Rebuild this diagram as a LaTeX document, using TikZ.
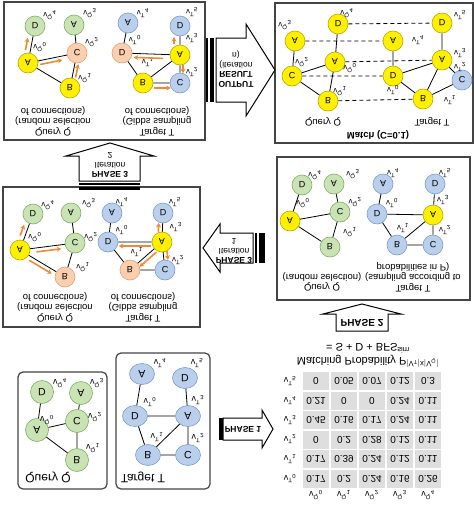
\documentclass[tikz,border=0pt]{standalone}
\usepackage{fontspec}
\usepackage{amsmath}
\setmainfont{Liberation Sans}
\usetikzlibrary{arrows.meta,calc,shapes.geometric}
\definecolor{qfill}{HTML}{C9E3B5}
\definecolor{qline}{HTML}{7FAE63}
\definecolor{tfill}{HTML}{B9CFEC}
\definecolor{tline}{HTML}{7B9CCB}
\definecolor{yfill}{HTML}{FFF000}
\definecolor{yline}{HTML}{B5A800}
\definecolor{ofill}{HTML}{F9CFAF}
\definecolor{oline}{HTML}{E2A070}
\definecolor{movec}{HTML}{EE8A35}
\definecolor{framec}{HTML}{444444}
\definecolor{cellc}{HTML}{DEDEDE}
\newcommand{\vQ}[1]{$\text{v}^{\text{Q}}{}_{\text{#1}}$}
\newcommand{\vT}[1]{$\text{v}^{\text{T}}{}_{\text{#1}}$}
\tikzset{
  vx/.style={circle,draw,line width=0.6pt,inner sep=0pt,minimum size=20pt,font=\fontsize{9}{9}\selectfont},
  big/.style={minimum size=23pt,font=\fontsize{10.5}{10.5}\selectfont},
  wide/.style={ellipse,minimum width=25pt,minimum height=21pt,font=\fontsize{10.5}{10.5}\selectfont},
  qn/.style={vx,fill=qfill,draw=qline},
  tn/.style={vx,fill=tfill,draw=tline},
  yn/.style={vx,fill=yfill,draw=yline},
  on/.style={vx,fill=ofill,draw=oline},
  lbl/.style={inner sep=0pt,font=\fontsize{8}{8}\selectfont},
  biglbl/.style={inner sep=0pt,font=\fontsize{9}{9}\selectfont},
  edge/.style={line width=0.8pt},
  match/.style={line width=0.8pt,dash pattern=on 4pt off 3pt},
  move/.style={line width=1.6pt,draw=movec,-{Stealth[length=4.5pt,width=5pt]}},
  frame/.style={draw=framec,line width=1.2pt},
  caption/.style={align=center,inner sep=0pt,font=\fontsize{9.5}{10.5}\selectfont},
  blockar/.style={draw,fill=white,line width=1pt,line join=miter},
  phase/.style={align=center,inner sep=0pt,font=\fontsize{8.5}{9.5}\selectfont},
  cell/.style={fill=cellc,minimum width=26pt,minimum height=18pt,inner sep=0pt,font=\fontsize{10}{10}\selectfont}
}
\begin{document}
\begin{tikzpicture}[x=1pt,y=1pt,yscale=-1,every node/.append style={transform shape}]
  \useasboundingbox (0,0) rectangle (474,507);
  % frames
  \draw[frame,rounded corners=5pt] (18,372) rectangle (107,489);
  \draw[frame,rounded corners=5pt] (116,353) rectangle (210,489);
  \draw[frame] (277,157) rectangle (470,300);
  \draw[frame] (3,187) rectangle (200,327);
  \draw[frame] (4,2) rectangle (205,140);
  \draw[frame] (275,3) rectangle (473,143);

  % step 0: the two graphs
  \node[qn,big] at (42,392) (aq4) {D};
  \node[qn,big] at (81,393) (aq3) {A};
  \node[qn,big] at (77,421) (aq2) {C};
  \node[qn,big] at (37,430) (aq0) {A};
  \node[qn,big] at (77,460) (aq1) {B};
  \node[biglbl] at (60,383) (aql4) {\vQ{4}};
  \node[biglbl] at (97,383) (aql3) {\vQ{3}};
  \node[biglbl] at (95,417) (aql2) {\vQ{2}};
  \node[biglbl] at (47,420) (aql0) {\vQ{0}};
  \node[biglbl] at (93,448) (aql1) {\vQ{1}};
  \draw[edge] (aq4) -- (aq0) (aq3) -- (aq2) (aq2) -- (aq0) (aq2) -- (aq1) (aq0) -- (aq1);
  \node[tn,wide] at (142,374) (at4) {A};
  \node[tn,wide] at (185,378) (at5) {D};
  \node[tn,wide] at (135,416) (at0) {D};
  \node[tn,wide] at (188,416) (at3) {A};
  \node[tn,wide] at (148,455) (at1) {B};
  \node[tn,wide] at (188,455) (at2) {C};
  \node[biglbl] at (160,363) (atl4) {\vT{4}};
  \node[biglbl] at (197,363) (atl5) {\vT{5}};
  \node[biglbl] at (150,402) (atl0) {\vT{0}};
  \node[biglbl] at (198,400) (atl3) {\vT{3}};
  \node[biglbl] at (157,437) (atl1) {\vT{1}};
  \node[biglbl] at (198,438) (atl2) {\vT{2}};
  \draw[edge] (at4) -- (at0) (at5) -- (at3) (at0) -- (at3) (at0) -- (at1)
    (at1) -- (at3) (at3) -- (at2) (at1) -- (at2);
  \node[inner sep=0pt,font=\fontsize{12}{12}\selectfont] at (48,477) (aqname) {Query Q};
  \node[inner sep=0pt,font=\fontsize{12}{12}\selectfont] at (143,477) (atname) {Target T};

  % phase 1 arrow
  \fill (219,418) rectangle (223,440);
  \draw[blockar] (223,418) -- (262,418) -- (262,410) -- (273,429) -- (262,448) -- (262,440) -- (223,440) -- cycle;
  \node[phase] at (243,429) (ph1) {\textbf{PHASE 1}};

  % probability matrix
  \node[align=center,inner sep=0pt,font=\fontsize{11}{14}\selectfont] at (368,355) (ptitle)
    {Matching Probability P$^{|\text{V}_\text{T}|\text{x}|\text{V}_\text{Q}|}$\\= S + D + BFS$^{\text{sim}}$};
  \node[cell] at (316,381) (p50) {0};
  \node[cell] at (344,381) (p51) {0.05};
  \node[cell] at (372,381) (p52) {0.07};
  \node[cell] at (400,381) (p53) {0.12};
  \node[cell] at (428,381) (p54) {0.3};
  \node[cell] at (316,400.5) (p40) {0.21};
  \node[cell] at (344,400.5) (p41) {0};
  \node[cell] at (372,400.5) (p42) {0};
  \node[cell] at (400,400.5) (p43) {0.24};
  \node[cell] at (428,400.5) (p44) {0.11};
  \node[cell] at (316,420) (p30) {0.45};
  \node[cell] at (344,420) (p31) {0.16};
  \node[cell] at (372,420) (p32) {0.17};
  \node[cell] at (400,420) (p33) {0.24};
  \node[cell] at (428,420) (p34) {0.11};
  \node[cell] at (316,439.5) (p20) {0};
  \node[cell] at (344,439.5) (p21) {0.2};
  \node[cell] at (372,439.5) (p22) {0.28};
  \node[cell] at (400,439.5) (p23) {0.12};
  \node[cell] at (428,439.5) (p24) {0.11};
  \node[cell] at (316,459) (p10) {0.17};
  \node[cell] at (344,459) (p11) {0.39};
  \node[cell] at (372,459) (p12) {0.24};
  \node[cell] at (400,459) (p13) {0.12};
  \node[cell] at (428,459) (p14) {0.11};
  \node[cell] at (316,478.5) (p00) {0.17};
  \node[cell] at (344,478.5) (p01) {0.2};
  \node[cell] at (372,478.5) (p02) {0.24};
  \node[cell] at (400,478.5) (p03) {0.16};
  \node[cell] at (428,478.5) (p04) {0.26};
  \node[biglbl] at (290,381) (pr5) {\vT{5}};
  \node[biglbl] at (290,400.5) (pr4) {\vT{4}};
  \node[biglbl] at (290,420) (pr3) {\vT{3}};
  \node[biglbl] at (290,439.5) (pr2) {\vT{2}};
  \node[biglbl] at (290,459) (pr1) {\vT{1}};
  \node[biglbl] at (290,478.5) (pr0) {\vT{0}};
  \node[biglbl] at (316,495) (pc0) {\vQ{0}};
  \node[biglbl] at (344,495) (pc1) {\vQ{1}};
  \node[biglbl] at (372,495) (pc2) {\vQ{2}};
  \node[biglbl] at (400,495) (pc3) {\vQ{3}};
  \node[biglbl] at (428,495) (pc4) {\vQ{4}};

  % phase 2 arrow
  \draw[blockar] (362,304) -- (401,314) -- (388,314) -- (388,331) -- (336,331) -- (336,314) -- (323,314) -- cycle;
  \node[phase,font=\fontsize{10}{10}\selectfont] at (362,323) (ph2) {\textbf{PHASE 2}};

  % phase 2: start node pair
  \node[qn] at (302,185) (bq4) {D};
  \node[qn] at (334,184) (bq3) {A};
  \node[qn] at (340,212) (bq2) {C};
  \node[yn] at (290,221) (bq0) {A};
  \node[qn] at (330,247) (bq1) {B};
  \node[lbl] at (315,175) (bql4) {\vQ{4}};
  \node[lbl] at (353,174) (bql3) {\vQ{3}};
  \node[lbl] at (355,202) (bql2) {\vQ{2}};
  \node[lbl] at (303,203) (bql0) {\vQ{0}};
  \node[lbl] at (350,232) (bql1) {\vQ{1}};
  \draw[edge] (bq4) -- (bq0) (bq3) -- (bq2) (bq2) -- (bq0) (bq2) -- (bq1) (bq0) -- (bq1);
  \node[tn] at (383,184) (bt4) {A};
  \node[tn] at (435,184) (bt5) {D};
  \node[tn] at (377,214) (bt0) {D};
  \node[yn] at (433,215) (bt3) {A};
  \node[tn] at (397,245) (bt1) {B};
  \node[tn] at (433,245) (bt2) {C};
  \node[lbl] at (393,173) (btl4) {\vT{4}};
  \node[lbl] at (445,173) (btl5) {\vT{5}};
  \node[lbl] at (392,203) (btl0) {\vT{0}};
  \node[lbl] at (443,200) (btl3) {\vT{3}};
  \node[lbl] at (403,228) (btl1) {\vT{1}};
  \node[lbl] at (445,230) (btl2) {\vT{2}};
  \draw[edge] (bt4) -- (bt0) (bt5) -- (bt3) (bt0) -- (bt3) (bt0) -- (bt1)
    (bt1) -- (bt3) (bt3) -- (bt2) (bt1) -- (bt2);
  \node[caption] at (322,282) (bqname) {Query Q\\(random selection)};
  \node[caption] at (413,277) (btname) {Target T\\(sampling according to\\probabilities in P)};

  % phase 3, iteration 1 arrow
  \draw[blockar] (203,248) -- (220,224) -- (220,233) -- (253,233) -- (253,263) -- (220,263) -- (220,272) -- cycle;
  \fill (255,233) rectangle (257,263);
  \fill (259,233) rectangle (265,263);
  \node[phase] at (234,251) (ph3a) {\textbf{PHASE 3}\\Iteration\\1};

  % iteration 1
  \node[qn] at (33,214) (cq4) {D};
  \node[qn] at (71,213) (cq3) {A};
  \node[qn] at (75,243) (cq2) {C};
  \node[yn] at (20,250) (cq0) {A};
  \node[on] at (65,277) (cq1) {B};
  \node[lbl] at (48,205) (cql4) {\vQ{4}};
  \node[lbl] at (89,203) (cql3) {\vQ{3}};
  \node[lbl] at (91,237) (cql2) {\vQ{2}};
  \node[lbl] at (35,237) (cql0) {\vQ{0}};
  \node[lbl] at (83,267) (cql1) {\vQ{1}};
  \draw[edge] (cq4) -- (cq0) (cq3) -- (cq2) (cq2) -- (cq0) (cq2) -- (cq1) (cq0) -- (cq1);
  \draw[move] ($(cq0)!0.4!(cq4)+(-5,0)$) -- ($(cq0)!0.7!(cq4)+(-5,0)$);
  \draw[move] ($(cq0)!0.3!(cq2)+(0,4)$) -- ($(cq0)!0.75!(cq2)+(0,4)$);
  \draw[move] ($(cq0)!0.25!(cq1)+(-2,3.5)$) -- ($(cq0)!0.75!(cq1)+(-2,3.5)$);
  \node[tn] at (112,213) (ct4) {A};
  \node[tn] at (163,213) (ct5) {D};
  \node[tn] at (108,242) (ct0) {D};
  \node[yn] at (162,242) (ct3) {A};
  \node[on] at (130,270) (ct1) {B};
  \node[tn] at (165,270) (ct2) {C};
  \node[lbl] at (122,202) (ctl4) {\vT{4}};
  \node[lbl] at (175,202) (ctl5) {\vT{5}};
  \node[lbl] at (122,230) (ctl0) {\vT{0}};
  \node[lbl] at (176,227) (ctl3) {\vT{3}};
  \node[lbl] at (137,252) (ctl1) {\vT{1}};
  \node[lbl] at (178,260) (ctl2) {\vT{2}};
  \draw[edge] (ct4) -- (ct0) (ct5) -- (ct3) (ct0) -- (ct3) (ct0) -- (ct1)
    (ct1) -- (ct3) (ct3) -- (ct2) (ct1) -- (ct2);
  \draw[move] ($(ct3)!0.2!(ct0)+(0,4)$) -- ($(ct3)!0.8!(ct0)+(0,4)$);
  \draw[move] ($(ct3)!0.34!(ct5)+(-4,0)$) -- ($(ct3)!0.66!(ct5)+(-4,0)$);
  \draw[move] ($(ct3)!0.32!(ct2)+(4,0)$) -- ($(ct3)!0.64!(ct2)+(4,0)$);
  \draw[move] ($(ct3)!0.25!(ct1)+(2.5,3)$) -- ($(ct3)!0.78!(ct1)+(2.5,3)$);
  \node[caption] at (55,307) (cqname) {Query Q\\(random selection\\of connections)};
  \node[caption] at (143,307) (ctname) {Target T\\(Gibbs sampling\\of connections)};

  % phase 3, iteration 2 arrow
  \draw[blockar] (110,143) -- (154,156) -- (140,156) -- (140,181) -- (79,181) -- (79,156) -- (66,156) -- cycle;
  \fill (79,183) rectangle (140,185);
  \fill (79,187) rectangle (140,190);
  \node[phase] at (110,165) (ph3b) {\textbf{PHASE 3}\\Iteration\\2};

  % iteration 2
  \node[qn] at (35,26) (dq4) {D};
  \node[qn] at (74,25) (dq3) {A};
  \node[on] at (77,53) (dq2) {C};
  \node[yn] at (28,63) (dq0) {A};
  \node[yn] at (70,88) (dq1) {B};
  \node[lbl] at (50,15) (dql4) {\vQ{4}};
  \node[lbl] at (90,13) (dql3) {\vQ{3}};
  \node[lbl] at (92,42) (dql2) {\vQ{2}};
  \node[lbl] at (40,47) (dql0) {\vQ{0}};
  \node[lbl] at (85,78) (dql1) {\vQ{1}};
  \draw[edge] (dq4) -- (dq0) (dq3) -- (dq2) (dq2) -- (dq0) (dq2) -- (dq1) (dq0) -- (dq1);
  \draw[move] ($(dq0)!0.35!(dq4)+(-5,0)$) -- ($(dq0)!0.68!(dq4)+(-5,0)$);
  \draw[move] ($(dq0)!0.25!(dq2)+(0,4)$) -- ($(dq0)!0.7!(dq2)+(0,4)$);
  \draw[move] ($(dq1)!0.3!(dq2)+(3.5,0)$) -- ($(dq1)!0.68!(dq2)+(3.5,0)$);
  \node[tn] at (128,23) (dt4) {A};
  \node[tn] at (180,26) (dt5) {D};
  \node[on] at (122,53) (dt0) {D};
  \node[yn] at (180,55) (dt3) {A};
  \node[yn] at (143,83) (dt1) {B};
  \node[tn] at (180,83) (dt2) {C};
  \node[lbl] at (143,13) (dtl4) {\vT{4}};
  \node[lbl] at (192,12) (dtl5) {\vT{5}};
  \node[lbl] at (135,40) (dtl0) {\vT{0}};
  \node[lbl] at (192,38) (dtl3) {\vT{3}};
  \node[lbl] at (148,62) (dtl1) {\vT{1}};
  \node[lbl] at (192,72) (dtl2) {\vT{2}};
  \draw[edge] (dt4) -- (dt0) (dt5) -- (dt3) (dt0) -- (dt3) (dt0) -- (dt1)
    (dt1) -- (dt3) (dt3) -- (dt2) (dt1) -- (dt2);
  \draw[move] ($(dt3)!0.29!(dt0)+(0,4)$) -- ($(dt3)!0.8!(dt0)+(0,4)$);
  \draw[move] ($(dt3)!0.38!(dt5)+(-6,0)$) -- ($(dt3)!0.62!(dt5)+(-6,0)$);
  \draw[move] ($(dt3)!0.35!(dt2)+(3,0)$) -- ($(dt3)!0.65!(dt2)+(3,0)$);
  \draw[move] ($(dt1)!0.3!(dt2)+(0,5)$) -- ($(dt1)!0.75!(dt2)+(0,5)$);
  \node[caption] at (53,121) (dqname) {Query Q\\(random selection\\of connections)};
  \node[caption] at (157,121) (dtname) {Target T\\(Gibbs sampling\\of connections)};

  % output arrow
  \fill (206,38) rectangle (208,102);
  \fill (210,38) rectangle (214,102);
  \draw[blockar] (216,38) -- (246,38) -- (246,24) -- (275,70) -- (246,116) -- (246,102) -- (216,102) -- cycle;
  \node[phase] at (236,69) (out) {\textbf{OUTPUT}\\\textbf{RESULT}\\(iteration\\n)};

  % the match
  \node[yn] at (295,41) (mq3) {A};
  \node[yn] at (338,24) (mq4) {D};
  \node[yn] at (335,62) (mq0) {A};
  \node[yn] at (292,76) (mq2) {C};
  \node[yn] at (328,101) (mq1) {B};
  \node[lbl] at (285,25) (mql3) {\vQ{3}};
  \node[lbl] at (347,13) (mql4) {\vQ{4}};
  \node[lbl] at (302,62) (mql2) {\vQ{2}};
  \node[lbl] at (350,68) (mql0) {\vQ{0}};
  \node[lbl] at (340,91) (mql1) {\vQ{1}};
  \draw[edge] (mq3) -- (mq2) (mq4) -- (mq0) (mq0) -- (mq2) (mq0) -- (mq1) (mq2) -- (mq1);
  \node[yn] at (442,23) (mt5) {D};
  \node[yn] at (393,41) (mt4) {A};
  \node[yn] at (442,60) (mt3) {A};
  \node[yn] at (393,76) (mt0) {D};
  \node[tn] at (462,80) (mt2) {C};
  \node[yn] at (423,99) (mt1) {B};
  \node[lbl] at (460,15) (mtl5) {\vT{5}};
  \node[lbl] at (418,40) (mtl4) {\vT{4}};
  \node[lbl] at (460,53) (mtl3) {\vT{3}};
  \node[lbl] at (460,67) (mtl2) {\vT{2}};
  \node[lbl] at (393,90) (mtl0) {\vT{0}};
  \node[lbl] at (450,100) (mtl1) {\vT{1}};
  \draw[edge] (mt5) -- (mt3) (mt4) -- (mt0) (mt0) -- (mt3) (mt0) -- (mt1)
    (mt1) -- (mt3) (mt3) -- (mt2) (mt1) -- (mt2);
  \draw[match] (mq4) -- (mt5) (mq3) -- (mt4) (mq0) -- (mt3) (mq2) -- (mt0) (mq1) -- (mt1);
  \node[caption] at (323,122) (mqname) {Query Q};
  \node[caption] at (432,122) (mtname) {Target T};
  \node[caption] at (378,135) (mname) {\textbf{Match (C=0.1)}};
\end{tikzpicture}
\end{document}
